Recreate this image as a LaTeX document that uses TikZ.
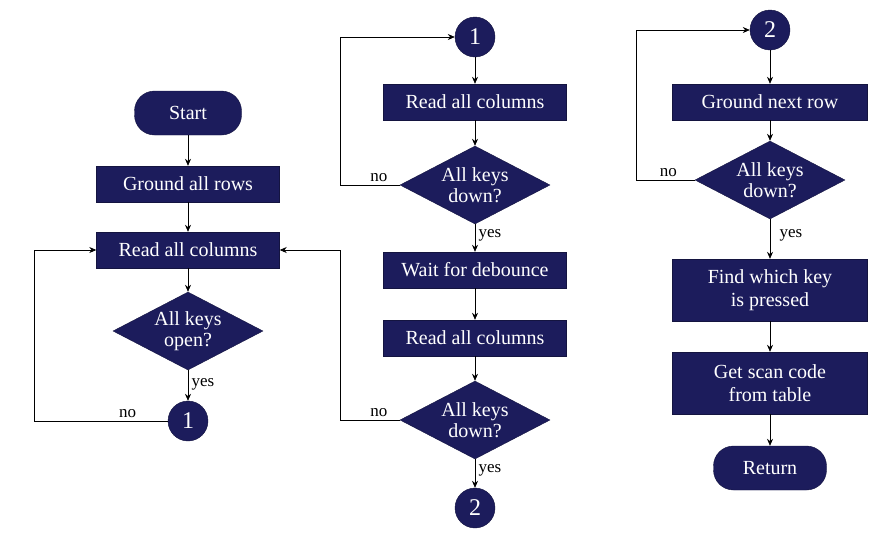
\documentclass[tikz,border=0pt]{standalone}
\usepackage{fontspec}
\setmainfont{Liberation Serif}
\usetikzlibrary{shapes.geometric,arrows.meta}
\definecolor{navy}{HTML}{1C1C5C}
\begin{document}
\begin{tikzpicture}[x=1pt,y=-1pt,
  box/.style={draw=navy!70!black,fill=navy,text=white,minimum width=183pt,minimum height=36pt,font=\fontsize{20}{23}\selectfont,align=center,inner sep=0pt},
  tall/.style={box,minimum width=195pt,minimum height=62pt},
  pill/.style={draw=navy!70!black,fill=navy,text=white,rounded corners=20pt,minimum width=107pt,minimum height=44pt,font=\fontsize{20}{23}\selectfont},
  dia/.style={diamond,aspect=1.9,draw=navy!70!black,fill=navy,text=white,inner sep=0pt,minimum width=150pt,minimum height=78pt,align=center,font=\fontsize{20}{21}\selectfont},
  circ/.style={circle,draw=navy!70!black,fill=navy,text=white,minimum size=40pt,inner sep=0pt,font=\fontsize{24}{26}\selectfont},
  lab/.style={font=\fontsize{17}{19}\selectfont},
  arr/.style={-{Stealth[length=7pt,width=6pt]},line width=0.7pt}]
\useasboundingbox (0,0) rectangle (886,550);
% column 1
\node[pill] (start) at (188,113) {Start};
\node[box] (gar) at (188,184) {Ground all rows};
\node[box] (rac1) at (188,250) {Read all columns};
\node[dia] (d1) at (188,331) {All keys\\open?};
\node[circ] (c1a) at (188,421) {1};
\draw[arr] (start) -- (gar);
\draw[arr] (gar) -- (rac1);
\draw[arr] (rac1) -- (d1);
\draw[arr] (d1) -- node[lab,right,pos=0.45]{yes} (c1a);
\coordinate (k1) at (34,421); \coordinate (k2) at (34,250);
\draw[arr] (c1a.west) -- node[lab,above,pos=0.3]{no} (k1) -- (k2) -- (rac1.west);
% column 2
\node[circ] (c1b) at (475,37) {1};
\node[box] (rac2) at (475,102) {Read all columns};
\node[dia] (d2) at (475,185) {All keys\\down?};
\node[box] (wfd) at (475,270) {Wait for debounce};
\node[box] (rac3) at (475,338) {Read all columns};
\node[dia] (d3) at (475,420) {All keys\\down?};
\node[circ] (c2a) at (475,508) {2};
\draw[arr] (c1b) -- (rac2);
\draw[arr] (rac2) -- (d2);
\draw[arr] (d2) -- node[lab,right,pos=0.4]{yes} (wfd);
\draw[arr] (wfd) -- (rac3);
\draw[arr] (rac3) -- (d3);
\draw[arr] (d3) -- node[lab,right,pos=0.4]{yes} (c2a);
\coordinate (m1) at (340,185); \coordinate (m2) at (340,37);
\draw[arr] (d2.west) -- node[lab,above,pos=0.35]{no} (m1) -- (m2) -- (c1b.west);
\coordinate (m3) at (340,420); \coordinate (m4) at (340,250);
\draw[arr] (d3.west) -- node[lab,above,pos=0.35]{no} (m3) -- (m4) -- (rac1.east);
% column 3
\node[circ] (c2b) at (770,30) {2};
\node[box,minimum width=195pt] (gnr) at (770,102) {Ground next row};
\node[dia] (d4) at (770,180) {All keys\\down?};
\node[tall] (fwk) at (770,290) {Find which key\\is pressed};
\node[tall] (gsc) at (770,383) {Get scan code\\from table};
\node[pill,minimum width=113pt] (ret) at (770,468) {Return};
\draw[arr] (c2b) -- (gnr);
\draw[arr] (gnr) -- (d4);
\draw[arr] (d4) -- node[lab,right,xshift=6pt,pos=0.4]{yes} (fwk);
\draw[arr] (fwk) -- (gsc);
\draw[arr] (gsc) -- (ret);
\coordinate (n1) at (636,180); \coordinate (n2) at (636,30);
\draw[arr] (d4.west) -- node[lab,above,pos=0.45]{no} (n1) -- (n2) -- (c2b.west);
\end{tikzpicture}
\end{document}
